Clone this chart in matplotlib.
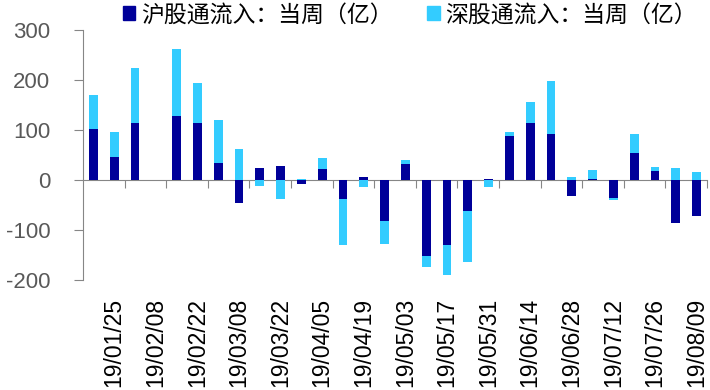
import matplotlib
matplotlib.use('Agg')
import matplotlib.pyplot as plt
from matplotlib.patches import Patch
import numpy as np

# weekly northbound flows (亿), 19/01/18 .. 19/08/09
weeks = ['19/01/18', '19/01/25', '19/02/01', '19/02/08', '19/02/15', '19/02/22',
         '19/03/01', '19/03/08', '19/03/15', '19/03/22', '19/03/29', '19/04/05',
         '19/04/12', '19/04/19', '19/04/26', '19/05/03', '19/05/10', '19/05/17',
         '19/05/24', '19/05/31', '19/06/07', '19/06/14', '19/06/21', '19/06/28',
         '19/07/05', '19/07/12', '19/07/19', '19/07/26', '19/08/02', '19/08/09']
sh_flow = [102, 46, 114, 0, 128, 114, 34, -45, 24, 29, -7, 22,
           -37, 6, -82, 32, -151, -129, -61, 2, 89, 114, 93, -31,
           3, -35, 54, 18, -85, -71]
sz_flow = [68, 50, 110, 0, 134, 81, 87, 63, -11, -37, 3, 23,
           -92, -13, -45, 9, -22, -60, -102, -13, 8, 43, 106, 7,
           18, -4, 39, 9, 25, 17]
y_ticks = [-200, -100, 0, 100, 200, 300]

sh_name = '沪股通流入：当周（亿）'
sz_name = '深股通流入：当周（亿）'
navy = '#000099'
cyan = '#33CCFF'
grey = '#868686'

x = np.arange(len(weeks))
sh = np.array(sh_flow)
sz = np.array(sz_flow)
# Excel-style stacking: positives on positives, negatives on negatives
sz_bottom = np.where(np.sign(sz) == np.sign(sh), sh, 0)

fig = plt.figure(figsize=(7.1, 3.9), dpi=100)
ax = fig.add_axes([83 / 710, 110 / 390, 624 / 710, 250 / 390])

ax.bar(x, sh, width=0.42, color=navy)
ax.bar(x, sz, width=0.42, bottom=sz_bottom, color=cyan)

ax.set_xlim(-0.5, len(weeks) - 0.5)
ax.set_ylim(-200, 300)
ax.set_yticks(y_ticks)
ax.set_yticklabels([str(v) for v in y_ticks], fontsize=16, color='#595959',
                   family='Liberation Sans')
ax.tick_params(axis='y', length=6.5, width=0.8, color=grey, pad=17)

# date labels every second week, no tick marks
ax.set_xticks(x[1::2])
ax.set_xticklabels(weeks[1::2], rotation=90, fontsize=16.5,
                   family='Liberation Sans')
ax.tick_params(axis='x', length=0, pad=13)

for s in ['top', 'right', 'bottom']:
    ax.spines[s].set_visible(False)
ax.spines['left'].set_color(grey)
ax.spines['left'].set_linewidth(0.8)

# zero axis line with boundary ticks every two weeks
zero_ax = ax.secondary_xaxis(0.4)
zero_ax.set_xticks(np.arange(1.5, len(weeks), 2))
zero_ax.tick_params(length=5.5, width=0.8, color=grey, labelbottom=False)
zero_ax.spines['bottom'].set_color(grey)
zero_ax.spines['bottom'].set_linewidth(0.8)

handles = [Patch(color=navy, label=sh_name), Patch(color=cyan, label=sz_name)]
fig.legend(handles=handles, loc='center', bbox_to_anchor=(410 / 710, 1 - 15 / 390),
           ncol=2, frameon=False, handlelength=0.55, handleheight=0.55,
           handletextpad=0.25, columnspacing=1.5,
           prop={'family': ['Noto Sans CJK SC', 'DejaVu Sans'], 'size': 16.5})

plt.savefig('out.png', dpi=100)
